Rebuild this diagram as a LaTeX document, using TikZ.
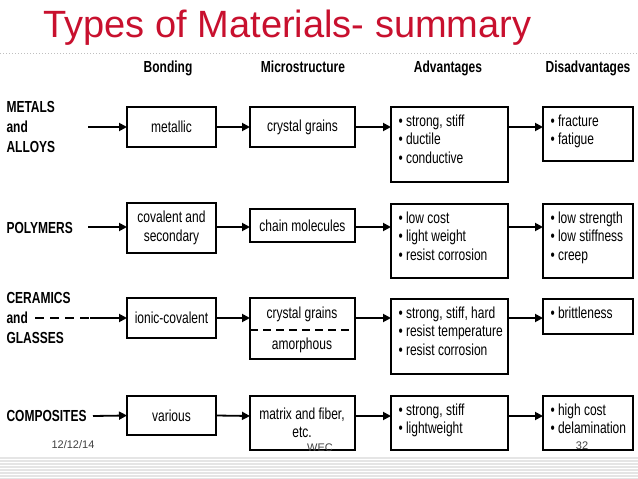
\documentclass[tikz,border=0pt]{standalone}
\usepackage{fontspec}
\setmainfont{Liberation Sans}
\newfontfamily\nar[FakeStretch=0.75]{Liberation Sans}
\usetikzlibrary{arrows.meta}
\definecolor{ttl}{HTML}{C8102E}
\tikzset{x=1pt,y=-1pt,
 bx/.style={draw,line width=1.2pt,inner sep=0pt,outer sep=0pt},
 tx/.style={font=\nar\fontsize{16}{18.5}\selectfont,align=left},
 ar/.style={line width=1.8pt,-{Triangle[length=8pt,width=8pt]}},
 hd/.style={font=\nar\bfseries\fontsize{16}{18}\selectfont,anchor=base},
 lb/.style={font=\nar\bfseries\fontsize{16}{20}\selectfont,align=left,anchor=west},
 ft/.style={font=\fontsize{11}{12}\selectfont,text=black!75}}
\newcommand{\bxx}[5]{\node[bx,minimum width=#3-#1,minimum height=#4-#2,anchor=north west] (#5) at (#1,#2) {};}
\begin{document}
\begin{tikzpicture}
\useasboundingbox (0,0) rectangle (638,479);
\fill[black!10] (0,457) rectangle (638,479);
\foreach \y in {459,462,...,477} \draw[white,line width=0.6pt] (0,\y) -- (638,\y);
\draw[black!25,dotted,line width=1pt] (0,53) -- (638,53);
\node[anchor=west,text=ttl,font=\fontsize{38}{40}\selectfont] (title) at (40,28) {Types of Materials- summary};
\node[hd] (h1) at (168,72) {Bonding};
\node[hd] (h2) at (303,72) {Microstructure};
\node[hd] (h3) at (448,72) {Advantages};
\node[hd] (h4) at (588,72) {Disadvantages};
% row 1
\node[lb] (l1) at (3,127) {METALS\\and\\ALLOYS};
\bxx{127}{107}{216}{147}{b1} \node[tx] at (b1) {metallic};
\bxx{250}{107}{355}{147}{m1} \node[tx] at (m1) {crystal grains};
\bxx{391}{107}{508}{182}{a1} \node[tx,anchor=north west] at (395,111) {• strong, stiff\\• ductile\\• conductive};
\bxx{543}{107}{633}{161}{d1} \node[tx,anchor=north west] at (547,111) {• fracture\\• fatigue};
\coordinate (s1) at (88,127);
\draw[ar] (s1) -- (b1.west);
\draw[ar] (b1.east) -- (m1.west);
\draw[ar] (m1.east) -- (391,127);
\draw[ar] (508,127) -- (543,127);
% row 2
\node[lb] (l2) at (3,228) {POLYMERS};
\bxx{127}{203}{216}{253}{b2} \node[tx,align=center] at (b2) {covalent and\\secondary};
\bxx{250}{209}{355}{242}{m2} \node[tx] at (m2) {chain molecules};
\bxx{391}{204}{508}{278}{a2} \node[tx,anchor=north west] at (395,208) {• low cost\\• light weight\\• resist corrosion};
\bxx{543}{204}{633}{278}{d2} \node[tx,anchor=north west] at (547,208) {• low strength\\• low stiffness\\• creep};
\coordinate (s2) at (88,227);
\draw[ar] (s2) -- (127,227);
\draw[ar] (216,227) -- (250,227);
\draw[ar] (355,227) -- (391,227);
\draw[ar] (508,227) -- (543,227);
% row 3
\node[lb] (l3) at (3,318) {CERAMICS\\and\\GLASSES};
\bxx{127}{298}{216}{338}{b3} \node[tx] at (b3) {ionic-covalent};
\bxx{250}{298}{355}{359}{m3}
\node[tx] at (302,314) {crystal grains};
\node[tx] at (302,345) {amorphous};
\draw[line width=1.2pt,dash pattern=on 8pt off 5pt] (250,330) -- (355,330);
\bxx{391}{299}{508}{374}{a3} \node[tx,anchor=north west] at (395,303) {• strong, stiff, hard\\• resist temperature\\• resist corrosion};
\bxx{543}{299}{633}{334}{d3} \node[tx,anchor=north west] at (547,303) {• brittleness};
\coordinate (s3) at (35,318);
\coordinate (s3b) at (90,318);
\draw[line width=1.5pt,dash pattern=on 9pt off 6pt] (s3) -- (s3b);
\draw[ar] (s3b) -- (b3.west);
\draw[ar] (b3.east) -- (250,318);
\draw[ar] (355,318) -- (391,318);
\draw[ar] (508,318) -- (543,318);
% row 4
\node[lb] (l4) at (3,416) {COMPOSITES};
\bxx{127}{396}{216}{435}{b4} \node[tx] at (b4) {various};
\bxx{250}{396}{355}{450}{m4} \node[tx,align=center] at (302,423) {matrix and fiber,\\etc.};
\bxx{391}{396}{508}{450}{a4} \node[tx,anchor=north west] at (395,400) {• strong, stiff\\• lightweight};
\bxx{543}{396}{633}{450}{d4} \node[tx,anchor=north west] at (547,400) {• high cost\\• delamination};
\coordinate (s4) at (93,416);
\draw[ar] (s4) -- (b4.west);
\draw[ar] (b4.east) -- (250,416);
\draw[ar] (355,416) -- (391,416);
\draw[ar] (508,416) -- (543,416);
% footer
\node[ft] (f1) at (73,445) {12/12/14};
\node[ft] (f2) at (320,448) {WEC};
\node[ft] (f3) at (582,446) {32};
\end{tikzpicture}
\end{document}
